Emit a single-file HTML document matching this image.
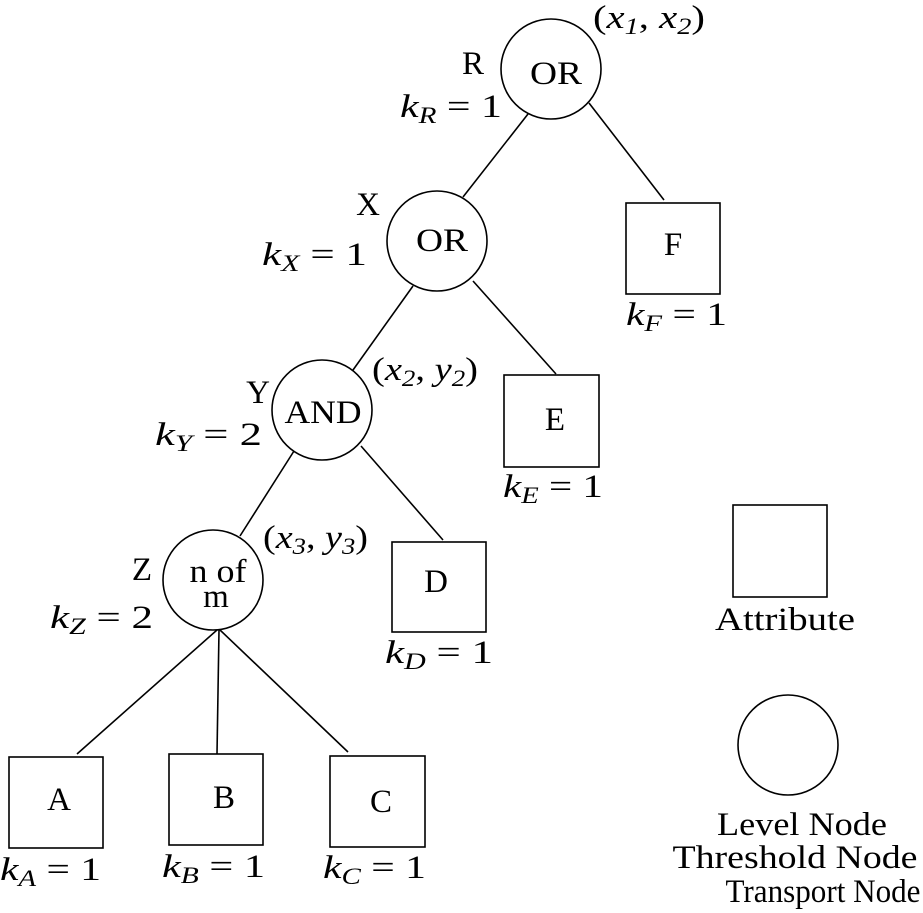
<!DOCTYPE html>
<html><head><meta charset="utf-8"><style>
html,body{margin:0;padding:0;background:#fff}
svg{display:block}
text{font-family:"Liberation Serif",serif;fill:#000}
.n{font-size:33px;text-anchor:middle}
.m{font-size:33px}
.i{font-style:italic}
.s{font-size:23px;font-style:italic}
</style></head><body>
<svg width="923" height="913" viewBox="0 0 923 913" xmlns="http://www.w3.org/2000/svg">
<g stroke="#000" stroke-width="1.6" fill="none">
<circle cx="551" cy="69" r="50"/>
<circle cx="437" cy="241" r="50"/>
<circle cx="322" cy="410" r="50"/>
<circle cx="213" cy="580" r="50"/>
<circle cx="788" cy="745" r="50"/>
<rect x="626" y="203" width="94" height="91"/>
<rect x="504" y="375" width="95" height="92"/>
<rect x="392" y="542" width="94" height="90"/>
<rect x="9" y="757" width="94" height="91"/>
<rect x="169" y="754" width="94" height="91"/>
<rect x="330" y="756" width="95" height="91"/>
<rect x="733" y="505" width="94" height="92"/>
<line x1="528" y1="114" x2="463" y2="197"/>
<line x1="589" y1="103" x2="664" y2="200"/>
<line x1="413" y1="286" x2="353" y2="370"/>
<line x1="473" y1="281" x2="556" y2="374"/>
<line x1="294" y1="451" x2="240" y2="536"/>
<line x1="361" y1="446" x2="443" y2="540"/>
<line x1="217" y1="630" x2="77" y2="754"/>
<line x1="219" y1="630" x2="217" y2="754"/>
<line x1="220" y1="630" x2="348" y2="752"/>
</g>
<text class="n" x="556" y="84" textLength="52" lengthAdjust="spacingAndGlyphs">OR</text>
<text class="n" x="473" y="74">R</text>
<text class="m" x="400" y="117" textLength="102" lengthAdjust="spacingAndGlyphs"><tspan class="i">k</tspan><tspan class="s" dy="6">R</tspan><tspan dy="-6"> = 1</tspan></text>
<text class="m" x="593" y="28" textLength="112" lengthAdjust="spacingAndGlyphs">(<tspan class="i">x</tspan><tspan class="s" dy="6">1</tspan><tspan dy="-6">, </tspan><tspan class="i">x</tspan><tspan class="s" dy="6">2</tspan><tspan dy="-6">)</tspan></text>
<text class="n" x="368" y="215">X</text>
<text class="n" x="442" y="251" textLength="52" lengthAdjust="spacingAndGlyphs">OR</text>
<text class="m" x="262" y="265" textLength="105" lengthAdjust="spacingAndGlyphs"><tspan class="i">k</tspan><tspan class="s" dy="6">X</tspan><tspan dy="-6"> = 1</tspan></text>
<text class="n" x="673" y="255">F</text>
<text class="m" x="626" y="325" textLength="101" lengthAdjust="spacingAndGlyphs"><tspan class="i">k</tspan><tspan class="s" dy="6">F</tspan><tspan dy="-6"> = 1</tspan></text>
<text class="m" x="372" y="380" textLength="106" lengthAdjust="spacingAndGlyphs">(<tspan class="i">x</tspan><tspan class="s" dy="6">2</tspan><tspan dy="-6">, </tspan><tspan class="i">y</tspan><tspan class="s" dy="6">2</tspan><tspan dy="-6">)</tspan></text>
<text class="n" x="258" y="403">Y</text>
<text class="n" x="323" y="423" textLength="77" lengthAdjust="spacingAndGlyphs">AND</text>
<text class="m" x="155" y="445" textLength="107" lengthAdjust="spacingAndGlyphs"><tspan class="i">k</tspan><tspan class="s" dy="6">Y</tspan><tspan dy="-6"> = 2</tspan></text>
<text class="n" x="555" y="430">E</text>
<text class="m" x="503" y="497" textLength="100" lengthAdjust="spacingAndGlyphs"><tspan class="i">k</tspan><tspan class="s" dy="6">E</tspan><tspan dy="-6"> = 1</tspan></text>
<text class="n" x="142" y="580">Z</text>
<text class="n" x="218" y="582" textLength="57" lengthAdjust="spacingAndGlyphs">n of</text>
<text class="n" x="216" y="607">m</text>
<text class="m" x="263" y="548" textLength="105" lengthAdjust="spacingAndGlyphs">(<tspan class="i">x</tspan><tspan class="s" dy="6">3</tspan><tspan dy="-6">, </tspan><tspan class="i">y</tspan><tspan class="s" dy="6">3</tspan><tspan dy="-6">)</tspan></text>
<text class="m" x="50" y="628" textLength="103" lengthAdjust="spacingAndGlyphs"><tspan class="i">k</tspan><tspan class="s" dy="6">Z</tspan><tspan dy="-6"> = 2</tspan></text>
<text class="n" x="436" y="592">D</text>
<text class="m" x="385" y="663" textLength="108" lengthAdjust="spacingAndGlyphs"><tspan class="i">k</tspan><tspan class="s" dy="6">D</tspan><tspan dy="-6"> = 1</tspan></text>
<text class="n" x="59" y="810">A</text>
<text class="m" x="0" y="880" textLength="101" lengthAdjust="spacingAndGlyphs"><tspan class="i">k</tspan><tspan class="s" dy="6">A</tspan><tspan dy="-6"> = 1</tspan></text>
<text class="n" x="224" y="808">B</text>
<text class="m" x="162" y="877" textLength="103" lengthAdjust="spacingAndGlyphs"><tspan class="i">k</tspan><tspan class="s" dy="6">B</tspan><tspan dy="-6"> = 1</tspan></text>
<text class="n" x="381" y="812">C</text>
<text class="m" x="323" y="878" textLength="103" lengthAdjust="spacingAndGlyphs"><tspan class="i">k</tspan><tspan class="s" dy="6">C</tspan><tspan dy="-6"> = 1</tspan></text>
<text class="n" x="785" y="630" textLength="140" lengthAdjust="spacingAndGlyphs">Attribute</text>
<text class="n" x="802" y="835" textLength="170" lengthAdjust="spacingAndGlyphs">Level Node</text>
<text class="n" x="795" y="868" textLength="245" lengthAdjust="spacingAndGlyphs">Threshold Node</text>
<text class="n" x="823" y="902" textLength="195" lengthAdjust="spacingAndGlyphs">Transport Node</text>
</svg>
</body></html>
